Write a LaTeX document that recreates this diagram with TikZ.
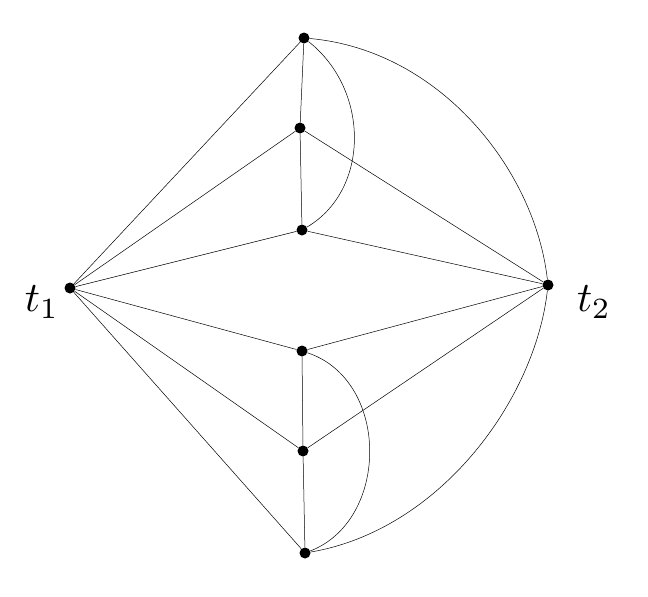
\documentclass[tikz,border=0pt]{standalone}
\begin{document}
\begin{tikzpicture}[x=1pt,y=-1pt,
  vtx/.style={circle,fill=black,inner sep=0pt,minimum width=11pt,minimum height=10pt},
  edge/.style={line width=0.5pt},
  lbl/.style={scale=4.2}]
\useasboundingbox (0,0) rectangle (648,597);
\node[vtx] (t1) at (70,288) {};
\node[vtx] (t2) at (548,285) {};
\node[vtx] (a) at (304,38) {};
\node[vtx] (b) at (300,128) {};
\node[vtx] (c) at (302,230) {};
\node[vtx] (d) at (302,351) {};
\node[vtx] (e) at (303,451) {};
\node[vtx] (f) at (305,553) {};
\node[lbl] (l1) at (42,302) {$t_1$};
\node[lbl] (l2) at (594,302) {$t_2$};
\foreach \v in {a,b,c,d,e,f} \draw[edge] (t1) -- (\v);
\foreach \v in {b,c,d,e} \draw[edge] (t2) -- (\v);
\draw[edge] (a) -- (b) -- (c);
\draw[edge] (d) -- (e) -- (f);
\draw[edge] (a) .. controls (370,90) and (370,190) .. (c);
\draw[edge] (d) .. controls (390,380) and (390,520) .. (f);
\draw[edge] (a) .. controls (440,50) and (535,170) .. (t2);
\draw[edge] (f) .. controls (440,530) and (535,400) .. (t2);
\end{tikzpicture}
\end{document}
